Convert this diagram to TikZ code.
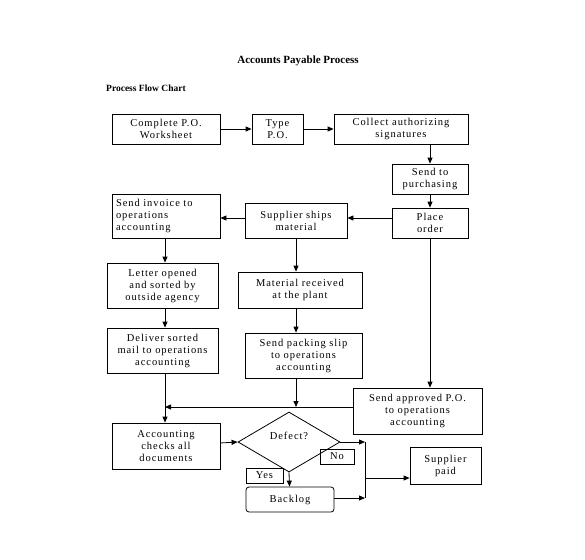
\documentclass[tikz,border=0pt]{standalone}
\usepackage{fontspec}
\setmainfont{Liberation Serif}[LetterSpace=9]
\newfontfamily\titlefont{Liberation Serif}
\usetikzlibrary{shapes.geometric,arrows.meta}
\begin{document}
\begin{tikzpicture}[x=1pt,y=-1pt,
 bx/.style={draw,line width=0.8pt,align=center,inner sep=0pt,font=\fontsize{10.5}{12}\selectfont},
 ar/.style={-{Triangle[length=6pt,width=5pt]},line width=0.8pt},
 ln/.style={line width=0.8pt}]
\useasboundingbox (0,0) rectangle (585,559);
\def\B#1#2#3#4#5#6{\node[bx,minimum width=#4-#2,minimum height=#5-#3] (#1) at ({(#2+#4)/2},{(#3+#5)/2}) {#6};}
\node[font=\titlefont\bfseries\fontsize{11}{13}\selectfont] (title) at (298,61) {Accounts Payable Process};
\node[font=\titlefont\bfseries\fontsize{9.5}{11}\selectfont,anchor=west,inner sep=0pt] (sub) at (106,88) {Process Flow Chart};
\B{a}{112}{114}{220}{144}{Complete P.O.\\Worksheet}
\B{b}{252}{114}{303}{144}{Type\\P.O.}
\B{c}{334}{114}{468}{144}{Collect authorizing\\signatures}
\B{d}{392}{164}{468}{194}{Send to\\purchasing}
\B{e}{392}{208}{468}{238}{Place\\order}
\B{f}{245}{203}{347}{238}{Supplier ships\\material}
\node[bx,minimum width=108,minimum height=44,align=left,text width=100] (g) at (166,216) {Send invoice to\\operations\\accounting};
\B{h}{107}{263}{218}{308}{Letter opened\\and sorted by\\outside agency}
\B{i}{238}{272}{362}{308}{Material received\\at the plant}
\B{j}{107}{328}{218}{373}{Deliver sorted\\mail to operations\\accounting}
\B{k}{245}{333}{362}{378}{Send packing slip\\to operations\\accounting}
\B{l}{353}{388}{482}{434}{Send approved P.O.\\to operations\\accounting}
\B{m}{112}{423}{220}{469}{Accounting\\checks all\\documents}
\node[draw,line width=0.8pt,diamond,aspect=1.7,minimum width=102,minimum height=60,inner sep=0pt] (n) at (289,442) {};
\node[font=\fontsize{10.5}{12}\selectfont] (nt) at (289,436) {Defect?};
\B{no}{320}{449}{354}{464}{No}
\B{yes}{246}{468}{283}{483}{Yes}
\node[bx,rounded corners=3pt,minimum width=88,minimum height=25] (p) at (290,499.5) {Backlog};
\B{q}{410}{447}{481}{484}{Supplier\\paid}
\coordinate (j1) at (365,442);
\coordinate (j2) at (365,498);
\coordinate (j3) at (365,478);
\coordinate (h1) at (165,407);
\coordinate (h2) at (296,407);
\coordinate (r1) at (0,218);
\draw[ar] (a) -- (b);
\draw[ar] (b) -- (c);
\draw[ar] (c.south -| d) -- (d);
\draw[ar] (d) -- (e);
\draw[ar] (e.west |- r1) -- (f.east |- r1);
\draw[ar] (f.west |- r1) -- (g.east |- r1);
\draw[ar] (g.south -| h1) -- (h.north -| h1);
\draw[ar] (h.south -| h1) -- (j.north -| h1);
\draw[ar] (j.south -| h1) -- (m.north -| h1);
\draw[ar] (f.south -| h2) -- (i.north -| h2);
\draw[ar] (i.south -| h2) -- (k.north -| h2);
\draw[ar] (k.south -| h2) -- (h2);
\draw[ar] (l.west |- h1) -- (h1);
\draw[ar] (e.south -| 430,0) -- (l.north -| 430,0);
\draw[ar] (m) -- (n.west);
\draw[ar] (n.east) -- (j1);
\draw[ar] (n.south) -- (p);
\draw[ar] (p.east |- j2) -- (j2);
\draw[ln] (j1) -- (j2);
\draw[ar] (j3) -- (q.west |- j3);
\end{tikzpicture}
\end{document}
